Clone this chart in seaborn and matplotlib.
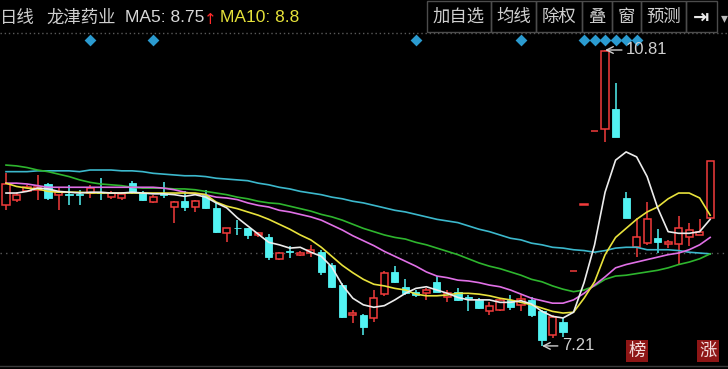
import numpy as np
import pandas as pd
import matplotlib
matplotlib.use("Agg")
import matplotlib.pyplot as plt
import seaborn as sns
from matplotlib.patches import Rectangle

# ---------------- data ----------------
opens = [8.92, 8.99, 9.10, 9.11, 9.18, 9.05, 9.06, 9.06, 9.07, 9.08,
         9.02, 9.01, 9.19, 9.07, 8.96, 9.06, 8.90, 8.97, 8.90, 9.05,
         8.89, 8.58, 8.65, 8.64, 8.56, 8.54, 8.27, 8.36, 8.32, 8.34,
         8.35, 8.20, 7.95, 7.59, 7.59, 7.55, 7.84, 8.11, 7.93, 7.87,
         7.85, 7.99, 7.80, 7.87, 7.80, 7.77, 7.63, 7.65, 7.77, 7.71,
         7.77, 7.63, 7.34, 7.50, 8.12, 8.93, 9.82, 9.85, 10.09, 9.01,
         8.41, 8.46, 8.52, 8.45, 8.45, 8.54, 8.56, 8.77]
highs = [9.31, 9.08, 9.17, 9.29, 9.19, 9.13, 9.17, 9.11, 9.17, 9.25,
         9.10, 9.08, 9.22, 9.09, 9.04, 9.20, 8.97, 9.10, 8.98, 9.11,
         8.95, 8.65, 8.74, 8.65, 8.60, 8.57, 8.35, 8.42, 8.36, 8.44,
         8.38, 8.22, 7.97, 7.65, 7.60, 7.89, 8.12, 8.18, 8.02, 7.89,
         7.91, 8.06, 7.89, 7.91, 7.83, 7.79, 7.74, 7.79, 7.83, 7.83,
         7.80, 7.65, 7.59, 7.55, 8.12, 8.93, 9.82, 10.81, 10.41, 9.08,
         8.77, 8.96, 8.63, 8.50, 8.79, 8.71, 8.75, 9.46]
lows = [8.86, 8.96, 9.08, 8.99, 8.98, 8.86, 8.92, 8.92, 9.01, 8.99,
        9.00, 8.99, 9.06, 8.97, 8.95, 9.01, 8.71, 8.85, 8.84, 8.87,
        8.58, 8.48, 8.56, 8.51, 8.53, 8.26, 8.25, 8.28, 8.30, 8.29,
        8.07, 7.91, 7.55, 7.49, 7.34, 7.50, 7.82, 7.97, 7.83, 7.81,
        7.77, 7.86, 7.75, 7.76, 7.63, 7.66, 7.59, 7.63, 7.65, 7.63,
        7.56, 7.21, 7.31, 7.32, 8.12, 8.93, 9.82, 9.69, 9.75, 8.77,
        8.29, 8.44, 8.34, 8.40, 8.19, 8.43, 8.56, 8.77]
closes = [9.18, 9.05, 9.14, 9.14, 9.01, 9.08, 9.05, 9.05, 9.13, 9.07,
          9.07, 9.06, 9.08, 8.99, 9.02, 9.05, 8.96, 8.90, 8.97, 8.89,
          8.60, 8.64, 8.64, 8.56, 8.58, 8.29, 8.34, 8.35, 8.34, 8.38,
          8.11, 7.93, 7.56, 7.61, 7.44, 7.79, 8.10, 7.99, 7.85, 7.83,
          7.89, 7.87, 7.85, 7.77, 7.79, 7.67, 7.70, 7.77, 7.68, 7.78,
          7.59, 7.28, 7.56, 7.38, 8.12, 8.93, 9.82, 10.80, 9.75, 8.77,
          8.54, 8.76, 8.47, 8.47, 8.64, 8.62, 8.60, 9.46]

ma5 = [9.07, 9.07, 9.09, 9.13, 9.12, 9.09, 9.08, 9.07, 9.08, 9.08,
       9.07, 9.07, 9.08, 9.07, 9.06, 9.06, 9.05, 9.03, 9.05, 9.02,
       8.95, 8.89, 8.77, 8.67, 8.57, 8.47, 8.44, 8.40, 8.41, 8.35,
       8.30, 8.17, 7.95, 7.79, 7.71, 7.68, 7.70, 7.77, 7.85, 7.91,
       7.93, 7.89, 7.85, 7.80, 7.77, 7.77, 7.77, 7.74, 7.74, 7.76,
       7.72, 7.63, 7.57, 7.55, 7.62, 7.98, 8.44, 9.08, 9.47, 9.57,
       9.51, 9.27, 8.89, 8.60, 8.58, 8.58, 8.60, 8.75]
ma10 = [9.19, 9.15, 9.13, 9.12, 9.09, 9.08, 9.08, 9.08, 9.07, 9.07,
        9.07, 9.07, 9.07, 9.07, 9.07, 9.07, 9.07, 9.07, 9.07, 9.05,
        8.96, 8.91, 8.88, 8.84, 8.80, 8.75, 8.69, 8.63, 8.56, 8.50,
        8.41, 8.30, 8.19, 8.10, 8.02, 7.96, 7.94, 7.91, 7.89, 7.84,
        7.82, 7.82, 7.83, 7.85, 7.85, 7.84, 7.82, 7.79, 7.77, 7.74,
        7.71, 7.67, 7.63, 7.61, 7.62, 7.79, 7.99, 8.32, 8.53, 8.64,
        8.75, 8.84, 8.90, 9.00, 9.07, 9.07, 9.01, 8.80]
ma20 = [9.19, 9.19, 9.18, 9.16, 9.14, 9.14, 9.14, 9.14, 9.14, 9.14,
        9.14, 9.14, 9.14, 9.14, 9.14, 9.13, 9.11, 9.08, 9.06, 9.05,
        9.02, 9.01, 8.99, 8.95, 8.92, 8.90, 8.86, 8.84, 8.81, 8.78,
        8.74, 8.68, 8.62, 8.55, 8.49, 8.43, 8.36, 8.30, 8.24, 8.18,
        8.11, 8.06, 8.04, 8.01, 8.00, 7.98, 7.95, 7.93, 7.89, 7.84,
        7.79, 7.76, 7.73, 7.73, 7.77, 7.85, 7.95, 8.05, 8.16, 8.20,
        8.23, 8.26, 8.29, 8.32, 8.34, 8.38, 8.44, 8.53]
ma30 = [9.41, 9.40, 9.38, 9.35, 9.33, 9.30, 9.27, 9.23, 9.20, 9.18,
        9.17, 9.16, 9.14, 9.13, 9.13, 9.13, 9.12, 9.12, 9.11, 9.09,
        9.07, 9.05, 9.02, 9.00, 8.97, 8.95, 8.94, 8.91, 8.88, 8.85,
        8.81, 8.78, 8.74, 8.69, 8.64, 8.60, 8.56, 8.53, 8.51, 8.47,
        8.44, 8.40, 8.36, 8.32, 8.27, 8.22, 8.18, 8.15, 8.11, 8.07,
        8.02, 7.99, 7.94, 7.90, 7.87, 7.89, 7.94, 8.02, 8.06, 8.07,
        8.09, 8.11, 8.13, 8.16, 8.20, 8.23, 8.27, 8.33]
ma60 = [9.33, 9.33, 9.33, 9.34, 9.34, 9.34, 9.34, 9.33, 9.35, 9.35,
        9.35, 9.34, 9.34, 9.33, 9.31, 9.30, 9.29, 9.28, 9.28, 9.27,
        9.25, 9.24, 9.23, 9.22, 9.19, 9.17, 9.14, 9.12, 9.09, 9.07,
        9.05, 9.02, 9.00, 8.97, 8.95, 8.92, 8.89, 8.86, 8.84, 8.81,
        8.78, 8.75, 8.73, 8.71, 8.67, 8.63, 8.60, 8.56, 8.52, 8.50,
        8.46, 8.44, 8.41, 8.40, 8.38, 8.37, 8.35, 8.37, 8.40, 8.41,
        8.41, 8.38, 8.38, 8.38, 8.37, 8.35, 8.34, 8.33]

event_idx = [8, 14, 39, 49, 55, 56, 57, 58, 59, 60]
high_label = "10.81"
low_label = "7.21"
buttons = ["加自选", "均线", "除权", "叠", "窗", "预测"]

# ---------------- style ----------------
plt.rcParams['font.family'] = ['Noto Sans CJK SC', 'DejaVu Sans']
RED = '#f23c3c'
CY = '#52f2f2'
TXT = '#cfcfcf'
ma_colors = {'MA5': '#ececec', 'MA10': '#e8e23c', 'MA20': '#e070e6',
             'MA30': '#2eb52e', 'MA60': '#3cb8cc'}

W, H = 728, 369
fig = plt.figure(figsize=(W / 100, H / 100), dpi=100, facecolor='black')
ax = fig.add_axes([0, 0, 1, 1])
ax.set_facecolor('black')

# pixel <-> data calibration (10.81 at y=50, 7.21 at y=346; candle spacing 10.51 px)
PXU = 82.2
TOP = 10.81 + 50 / PXU
def py(y):
    return TOP - y / PXU
SP = 10.51

n = len(closes)
for arr in (opens, highs, lows, ma5, ma10, ma20, ma30, ma60):
    assert len(arr) == n
idx = np.arange(n)
o = np.array(opens); c = np.array(closes)
h = np.array(highs); l = np.array(lows)
up = c >= o
blo = np.minimum(o, c); bhi = np.maximum(o, c)
bh = np.maximum(bhi - blo, 0.003)

# reference lines
ax.axhline(py(253), color='#5a5a5a', lw=1, ls=(0, (1, 3)), zorder=1)
ax.axhline(py(33), color='#5a5a5a', lw=1, ls=(0, (1, 2)), zorder=1)
ax.axhline(py(366), color='#3a3a3a', lw=1, zorder=1)

# candles
BW = 0.68
ax.vlines(idx[up], bhi[up], h[up], color=RED, lw=1.1, zorder=3)
ax.vlines(idx[up], l[up], blo[up], color=RED, lw=1.1, zorder=3)
ax.vlines(idx[~up], l[~up], h[~up], color=CY, lw=1.1, zorder=3)
ax.bar(idx[up], bh[up], bottom=blo[up], width=BW, facecolor='black',
       edgecolor=RED, linewidth=1.1, zorder=3)
ax.bar(idx[~up], bh[~up], bottom=blo[~up], width=BW, facecolor=CY,
       edgecolor=CY, linewidth=0.6, zorder=3)

# moving averages via seaborn
df = pd.DataFrame({'idx': np.tile(idx, 5),
                   'value': np.concatenate([ma60, ma30, ma20, ma10, ma5]),
                   'ma': np.repeat(['MA60', 'MA30', 'MA20', 'MA10', 'MA5'], n)})
sns.lineplot(data=df, x='idx', y='value', hue='ma', palette=ma_colors,
             estimator=None, linewidth=1.2, legend=False, ax=ax, zorder=4)

# event diamonds
ax.scatter(event_idx, [py(40)] * len(event_idx), marker='D', s=36,
           color='#2b9bd0', zorder=5, linewidths=0)

# high / low annotations
hi_i = int(np.argmax(h)); lo_i = int(np.argmin(l))
ax.annotate(high_label, xy=(hi_i, h[hi_i]), xytext=(hi_i + 2.0, h[hi_i]),
            color=TXT, fontsize=12, va='center', ha='left',
            family=['Liberation Sans', 'DejaVu Sans'],
            arrowprops=dict(arrowstyle='->', color=TXT, lw=1, shrinkA=1, shrinkB=0),
            zorder=6)
ax.annotate(low_label, xy=(lo_i, l[lo_i]), xytext=(lo_i + 1.9, l[lo_i]),
            color=TXT, fontsize=12, va='center', ha='left',
            family=['Liberation Sans', 'DejaVu Sans'],
            arrowprops=dict(arrowstyle='->', color=TXT, lw=1, shrinkA=1, shrinkB=0),
            zorder=6)

ax.set_xlim(-6 / SP, (W - 6) / SP)
ax.set_ylim(py(H), py(0))
ax.axis('off')

# ---------------- header ----------------
def fx(x):
    return x / W
def fy(y):
    return 1 - y / H

fig.text(fx(0), fy(18), "日线", color=TXT, fontsize=12.5, va='center', ha='left')
fig.text(fx(46), fy(18), "龙津药业", color=TXT, fontsize=12.5, va='center', ha='left')
fig.text(fx(125), fy(18), f"MA5: {ma5[-1]:.2f}", color='#d8d8d8', fontsize=12.5,
         va='center', ha='left', family=['Liberation Sans', 'DejaVu Sans'])
fig.text(fx(204), fy(19), "↑", color='#ff2a2a', fontsize=11, va='center', ha='left',
         family=['DejaVu Sans'])
fig.text(fx(220), fy(18), f"MA10: {ma10[-1]:.1f}", color='#e6e23a', fontsize=12.5,
         va='center', ha='left', family=['Liberation Sans', 'DejaVu Sans'])

edges = [427, 491, 536, 582, 612, 641, 686, 717]
for k, lab in enumerate(buttons):
    x0, x1 = edges[k], edges[k + 1]
    fig.patches.append(Rectangle((fx(x0), fy(32)), fx(x1 - x0), 31 / H,
                                 transform=fig.transFigure, fill=False,
                                 edgecolor='#4c4c4c', lw=1))
    fig.text(fx((x0 + x1) / 2), fy(17), lab, color=TXT, fontsize=12.5,
             va='center', ha='center')
fig.patches.append(Rectangle((fx(686), fy(32)), fx(31), 31 / H,
                             transform=fig.transFigure, fill=False,
                             edgecolor='#4c4c4c', lw=1))
fig.text(fx(701), fy(17), "⇥", color='#e8e8e8', fontsize=14, va='center',
         ha='center', family=['DejaVu Sans'], fontweight='bold')
fig.text(fx(724), fy(18), "▾", color='#bbbbbb', fontsize=10, va='center',
         ha='center', family=['DejaVu Sans'])

# bottom badges
for xc, lab in [(637, "榜"), (708, "涨")]:
    fig.text(fx(xc), fy(351), lab, color='#f4dede', fontsize=12.5, va='center',
             ha='center', bbox=dict(boxstyle='square,pad=0.12',
                                    facecolor='#8e1616', edgecolor='none'))

fig.savefig('out.png', dpi=100, facecolor='black')
